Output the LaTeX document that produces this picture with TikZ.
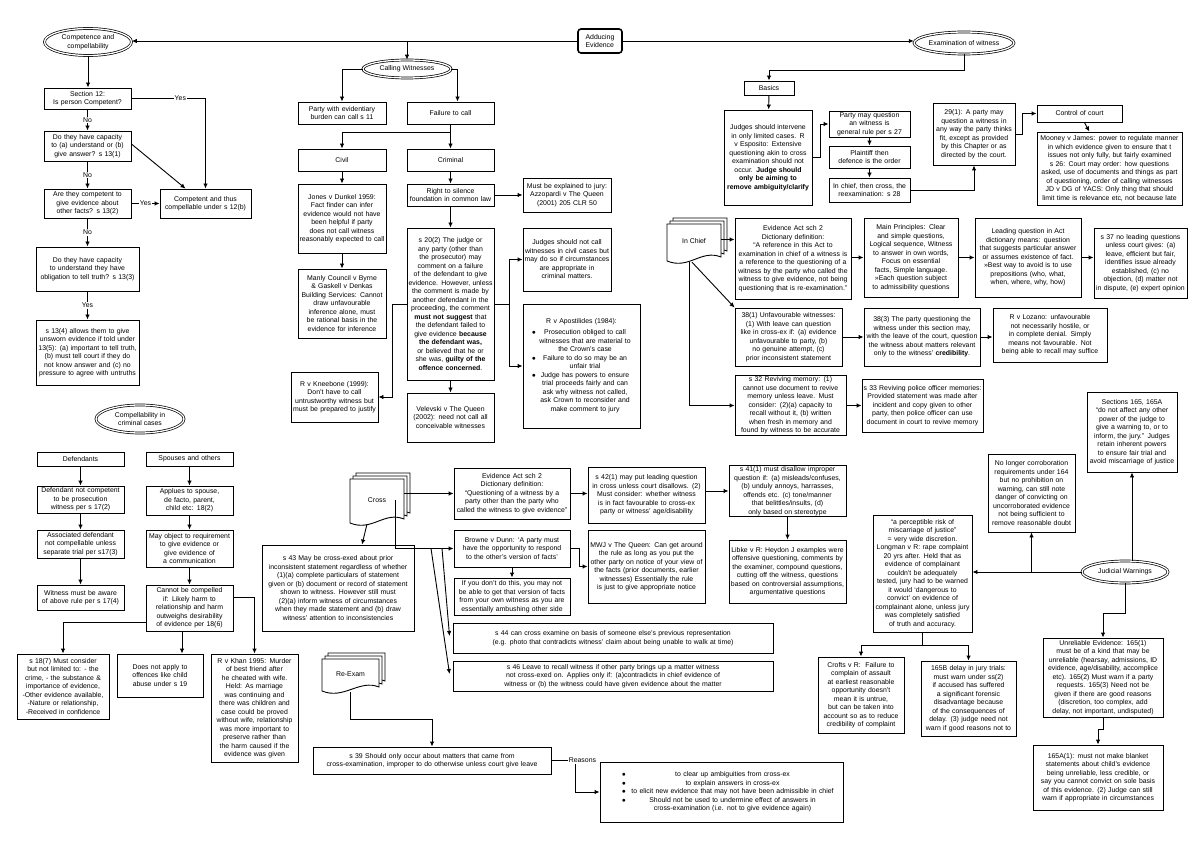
\documentclass[tikz,border=0pt]{standalone}
\usepackage{fontspec}
\setmainfont{Liberation Sans}
\usepackage{array}
\usetikzlibrary{shapes.geometric,arrows.meta,calc}
\hyphenpenalty=10000
\exhyphenpenalty=10000
\tikzset{
  every node/.style={font=\fontsize{6.9}{8.5}\selectfont},
  bx/.style={draw,line width=0.9pt,fill=white,align=center,inner xsep=1.5pt,inner ysep=1pt},
  dell/.style={ellipse,draw,double,line width=0.7pt,double distance=1.3pt,fill=white,align=center,inner sep=0pt},
  arr/.style={line width=0.9pt,-{Latex[length=5pt,width=4.5pt]}},
  ln/.style={line width=0.9pt},
  lbl/.style={fill=white,inner sep=0.8pt},
}
\newcommand\bx[6]{%
  \pgfmathsetmacro\bw{#4-#2-3}\pgfmathsetmacro\bh{#5-#3}%
  \pgfmathsetmacro\bcx{(#2+#4)/2}\pgfmathsetmacro\bcy{(#3+#5)/2}%
  \node[bx,text width=\bw pt,minimum height=\bh pt] (#1) at (\bcx,\bcy) {#6};}
\newcommand\mdoc[6]{%
  \foreach \o in {6,3,0}{%
    \draw[line width=0.9pt,fill=white] (#2+\o,#5-\o-4) -- (#2+\o,#3-\o) -- (#4+\o,#3-\o) -- (#4+\o,#5-\o-8)
      .. controls (#4+\o-20,#5-\o-16) and (#2+\o+22,#5-\o+5) .. (#2+\o,#5-\o-4) -- cycle;}
  \pgfmathsetmacro\bw{#4-#2}\pgfmathsetmacro\bh{#5-#3}%
  \pgfmathsetmacro\bcx{(#2+#4)/2}\pgfmathsetmacro\bcy{(#3+#5)/2-3}%
  \node[minimum width=\bw pt,minimum height=\bh pt,inner sep=0pt] (#1) at (\bcx,\bcy) {#6};}
\begin{document}
\begin{tikzpicture}[x=1pt,y=-1pt]
\useasboundingbox[fill=white] (0,0) rectangle (1200,850);

% ---------- top
\node[draw,line width=1.6pt,rounded corners=3pt,align=left,minimum width=44pt,minimum height=24pt,inner sep=1pt,fill=white] (adu) at (600,41) {Adducing\\Evidence};
\node[dell,minimum width=87pt,minimum height=27pt] (comp) at (88,42) {Competence and\\compellability};
\node[dell,minimum width=86pt,minimum height=22pt] (exam) at (964,43) {Examination of witness};
\node[dell,minimum width=88pt,minimum height=18pt] (call) at (407,69) {Calling Witnesses};
\draw[arr] (adu.west) -- (comp.east |- adu.west);
\draw[arr] (adu.east) -- (exam.west |- adu.east);
\coordinate (j1) at (407,41);
\draw[arr] (j1) -- (call.north);

% ---------- competence
\bx{s12}{44}{88}{131}{109}{Section 12:\\Is person Competent?}
\bx{cap}{44}{131}{131}{161}{Do they have capacity to (a) understand or (b) give answer? s 13(1)}
\bx{oth}{44}{189}{131}{218}{Are they competent to give evidence about other facts? s 13(2)}
\bx{ctc}{160}{189}{251}{218}{Competent and thus compellable under s 12(b)}
\bx{obl}{36}{247}{139}{291}{Do they have capacity to understand they have obligation to tell truth? s 13(3)}
\bx{uns}{36}{320}{139}{385}{s 13(4) allows them to give unsworn evidence if told under 13(5): (a) important to tell truth, (b) must tell court if they do not know answer and (c) no pressure to agree with untruths}
\draw[arr] (comp.south) -- (comp.south |- s12.north);
\draw[arr] (s12) -- node[lbl]{No} (cap);
\draw[arr] (cap) -- node[lbl]{No} (oth);
\draw[arr] (oth) -- node[lbl]{No} (obl);
\draw[arr] (obl) -- node[lbl]{Yes} (uns);
\draw[arr] (s12.east) -| node[lbl,pos=0.33]{Yes} (ctc.north);
\draw[arr] ([yshift=2pt]cap.east) -- ([xshift=-20pt]ctc.north);
\draw[arr] (oth) -- node[lbl]{Yes} (ctc);

% ---------- calling witnesses
\bx{party}{298}{102}{386}{124}{Party with evidentiary burden can call s 11}
\bx{fail}{407}{102}{494}{124}{Failure to call}
\bx{civil}{298}{149}{386}{171}{Civil}
\bx{crim}{407}{149}{494}{171}{Criminal}
\bx{jones}{298}{184}{386}{253}{Jones v Dunkel 1959: Fact finder can infer evidence would not have been helpful if party does not call witness reasonably expected to call}
\bx{manly}{298}{269}{386}{338}{Manly Council v Byrne \& Gaskell v Denkas Building Services: Cannot draw unfavourable inference alone, must be rational basis in the evidence for inference}
\bx{kneeb}{291}{372}{378}{422}{R v Kneebone (1999): Don't have to call untrustworthy witness but must be prepared to justify}
\bx{rts}{407}{184}{494}{206}{Right to silence foundation in common law}
\bx{expl}{523}{178}{611}{212}{Must be explained to jury:\\Azzopardi v The Queen (2001) 205 CLR 50}
\bx{s20}{407}{228}{494}{380}{s 20(2) The judge or any party (other than the prosecutor) may comment on a failure of the defendant to give evidence. However, unless the comment is made by another defendant in the proceeding, the comment \textbf{must not suggest} that the defendant failed to give evidence \textbf{because the defendant was,} or believed that he or she was, \textbf{guilty of the offence concerned}.}
\bx{jnc}{523}{228}{611}{291}{Judges should not call witnesses in civil cases but may do so if circumstances are appropriate in criminal matters.}
\bx{apos}{523}{304}{640}{428}{R v Apostilides (1984):\\[3pt]
\begin{tabular}{@{}c@{\hspace{3pt}}>{\centering\arraybackslash}p{92pt}@{}}
$\bullet$ & Prosecution obliged to call witnesses that are material to the Crown's case\\
$\bullet$ & Failure to do so may be an unfair trial\\
$\bullet$ & Judge has powers to ensure trial proceeds fairly and can ask why witness not called, ask Crown to reconsider and make comment to jury
\end{tabular}}
\bx{vel}{407}{393}{494}{442}{Velevski v The Queen (2002): need not call all conceivable witnesses}
\draw[arr] (call.west) -| (party.north);
\draw[arr] (call.east) -| ([xshift=7pt]fail.north);
\draw[arr] (fail) -- (crim);
\draw[arr] (fail.south) -- ++(0,8) -| (civil.north);
\draw[arr] (civil) -- (jones);
\draw[arr] (jones) -- (manly);
\draw[arr] (crim) -- (rts);
\draw[arr] (rts) -- (expl);
\draw[arr] (rts) -- (s20);
\draw[arr] (s20) -- (vel);
\draw[arr] (s20.west) -- ++(-14,0) |- (kneeb.east);
\draw[arr] (s20.east) -- ++(15,0) |- (jnc.west);
\draw[arr] (s20.east) -- ++(15,0) |- (apos.west);

% ---------- compellability in criminal cases
\node[dell,minimum width=88pt,minimum height=28pt] (cc) at (140,419) {Compellability in\\criminal cases};
\bx{def}{37}{452}{124}{466}{Defendants}
\bx{spo}{146}{452}{233}{466}{Spouses and others}
\bx{dnc}{37}{486}{124}{513}{Defendant not competent to be prosecution witness per s 17(2)}
\bx{asd}{37}{530}{124}{558}{Associated defendant not compellable unless separate trial per s17(3)}
\bx{wma}{37}{585}{124}{610}{Witness must be aware of above rule per s 17(4)}
\bx{app}{146}{486}{233}{515}{Applues to spouse, de facto, parent, child etc: 18(2)}
\bx{mob}{146}{530}{233}{567}{May object to requirement to give evidence or give evidence of a communication}
\bx{cbc}{146}{585}{233}{631}{Cannot be compelled if: Likely harm to relationship and harm outweighs desirability of evidence per 18(6)}
\bx{s187}{17}{654}{109}{719}{s 18(7) Must consider but not limited to: - the crime, - the substance \& importance of evidence, -Other evidence available, -Nature or relationship, -Received in confidence}
\bx{dna}{117}{654}{203}{697}{Does not apply to offences like child abuse under s 19}
\bx{khan}{211}{654}{298}{762}{R v Khan 1995: Murder of best friend after he cheated with wife.\\Held: As marriage was continuing and there was children and case could be proved without wife, relationship was more important to preserve rather than the harm caused if the evidence was given}
\draw[arr] (def) -- (dnc);
\draw[arr] (dnc) -- (asd);
\draw[arr] (asd) -- (wma);
\draw[arr] (spo) -- (app);
\draw[arr] (app) -- (mob);
\draw[arr] (mob) -- (cbc);
\draw[arr] ([yshift=-14pt]cbc.west) -| (s187.north);
\draw[arr] ([xshift=22pt]dna.north |- cbc.south) -- ([xshift=22pt]dna.north);
\draw[arr] ([yshift=11pt]cbc.east) -| (khan.north);

% ---------- examination of witness
\bx{basics}{744}{81}{794}{95}{Basics}
\bx{jint}{724}{110}{812}{205}{Judges should intervene in only limited cases. R v Esposito: Extensive questioning akin to cross examination should not occur. \textbf{Judge should only be aiming to remove ambiguity/clarify}}
\bx{pq}{829}{111}{910}{137}{Party may question an witness is general rule per s 27}
\bx{pd}{829}{146}{910}{168}{Plaintiff then defence is the order}
\bx{ic}{829}{178}{910}{202}{In chief, then cross, the reexamination: s 28}
\bx{s29}{933}{103}{1015}{165}{29(1): A party may question a witness in any way the party thinks fit, except as provided by this Chapter or as directed by the court.}
\bx{ctl}{1037}{105}{1122}{122}{Control of court}
\bx{moon}{1037}{132}{1182}{205}{Mooney v James: power to regulate manner in which evidence given to ensure that t issues not only fully, but fairly examined\\s 26: Court may order: how questions asked, use of documents and things as part of questioning, order of calling witnesses\\JD v DG of YACS: Only thing that should limit time is relevance etc, not because late}
\draw[arr] (exam.south) -- ++(0,16) -| (basics.north);
\draw[arr] (basics) -- (jint);
\draw[arr] (jint.east) -- ++(8,0) |- (pq.west);
\draw[arr] (pq) -- (pd);
\draw[arr] (pd) -- (ic);
\draw[arr] (ic.east) -| (s29.south);
\draw[arr] (s29.east) -- ++(7,0) |- (ctl.west);
\draw[arr] (ctl) -- (moon);

% ---------- in chief
\mdoc{inchief}{667}{224}{721}{265}{In Chief}
\bx{ica}{735}{218}{851}{299}{Evidence Act sch 2 Dictionary definition:\\``A reference in this Act to examination in chief of a witness is a reference to the questioning of a witness by the party who called the witness to give evidence, not being questioning that is re-examination.''}
\bx{mp}{864}{218}{958}{297}{Main Principles: Clear and simple questions, Logical sequence, Witness to answer in own words, Focus on essential facts, Simple language.\\\textgreater\textgreater Each question subject to admissibility questions}
\bx{lq}{975}{218}{1081}{297}{Leading question in Act dictionary means: question that suggests particular answer or assumes existence of fact.\\\textgreater\textgreater Best way to avoid is to use prepositions (who, what, when, where, why, how)}
\bx{s37}{1094}{228}{1187}{298}{s 37 no leading questions unless court gives: (a) leave, efficient but fair, identifies issue already established, (c) no objection, (d) matter not in dispute, (e) expert opinion}
\bx{s381}{735}{308}{842}{366}{38(1) Unfavourable witnesses: (1) With leave can question like in cross-ex if: (a) evidence unfavourable to party, (b) no genuine attempt, (c) prior inconsistent statement}
\bx{s383}{864}{308}{980}{366}{38(3) The party questioning the witness under this section may, with the leave of the court, question the witness about matters relevant only to the witness' \textbf{credibility}.}
\bx{loz}{993}{308}{1107}{362}{R v Lozano: unfavourable not necessarily hostile, or in complete denial. Simply means not favourable. Not being able to recall may suffice}
\bx{s32}{735}{379}{846}{432}{s 32 Reviving memory: (1) cannot use document to revive memory unless leave. Must consider: (2)(a) capacity to recall without it, (b) written when fresh in memory and found by witness to be accurate}
\bx{s33}{862}{379}{983}{432}{s 33 Reviving police officer memories:\\Provided statement was made after incident and copy given to other party, then police officer can use document in court to revive memory}
\draw[arr] ([yshift=2pt]inchief.east) -- ([yshift=2pt]inchief.east -| ica.west);
\draw[arr] (ica.east |- mp.west) -- (mp.west);
\draw[arr] (mp.east) -- (mp.east -| lq.west);
\draw[arr] (lq.east) -- (lq.east -| s37.west);
\draw[arr] ([xshift=-2pt]inchief.south) -- (s381.north west);
\draw[arr] ([xshift=-5pt]inchief.south) |- (s32.west);
\draw[arr] (s381) -- (s383);
\draw[arr] (s383.east) -- (s383.east -| loz.west);
\draw[arr] (s32) -- (s33);

% ---------- judicial warnings
\bx{s165}{1087}{392}{1177}{472}{Sections 165, 165A ``do not affect any other power of the judge to give a warning to, or to inform, the jury.'' Judges retain inherent powers to ensure fair trial and avoid miscarriage of justice}
\bx{nlc}{988}{454}{1075}{532}{No longer corroboration requirements under 164 but no prohibition on warning, can still note danger of convicting on uncorroborated evidence not being sufficient to remove reasonable doubt}
\node[dell,minimum width=86pt,minimum height=22pt] (jw) at (1125,572) {Judicial Warnings};
\bx{unr}{1043}{638}{1163}{717}{Unreliable Evidence: 165(1) must be of a kind that may be unreliable (hearsay, admissions, ID evidence, age/disability, accomplice etc). 165(2) Must warn if a party requests. 165(3) Need not be given if there are good reasons (discretion, too complex, add delay, not important, undisputed)}
\bx{s165a}{1033}{745}{1163}{810}{165A(1): must not make blanket statements about child's evidence being unreliable, less credible, or say you cannot convict on sole basis of this evidence. (2) Judge can still warn if appropriate in circumstances}
\bx{perc}{873}{515}{972}{632}{``a perceptible risk of miscarriage of justice'' = very wide discretion.\\Longman v R: rape complaint 20 yrs after. Held that as evidence of complainant couldn't be adequately tested, jury had to be warned it would `dangerous to convict' on evidence of complainant alone, unless jury was completely satisfied of truth and accuracy.}
\bx{crofts}{818}{657}{904}{733}{Crofts v R:\ \ Failure to complain of assault at earliest reasonable opportunity doesn't mean it is untrue, but can be taken into account so as to reduce credibility of complaint}
\bx{s165b}{921}{661}{1016}{736}{165B delay in jury trials: must warn under ss(2) if accused has suffered a significant forensic disadvantage because of the consequences of delay. (3) judge need not warn if good reasons not to}
\draw[arr] (s165.south |- jw.north) -- (s165.south);
\draw[arr] (jw.west) -- (perc.east |- jw.west);
\draw[arr] (nlc.south |- jw.west) -- (nlc.south);
\draw[arr] (jw.south) -- ++(0,30) -| (unr.north);
\draw[arr] (unr.south) -- ++(0,12) -| (s165a.north);
\draw[arr] (perc.south) -- ++(0,13) -| (crofts.north);
\draw[arr] (perc.south) -- ++(0,13) -| (s165b.north);

% ---------- cross
\mdoc{cross}{350}{479}{404}{527}{Cross}
\bx{xdef}{454}{468}{570}{519}{Evidence Act sch 2 Dictionary definition:\\``Questioning of a witness by a party other than the party who called the witness to give evidence''}
\bx{s42}{588}{467}{705}{523}{s 42(1) may put leading question in cross unless court disallows. (2) Must consider: whether witness is in fact favourable to cross-ex party or witness' age/disability}
\bx{s41}{729}{467}{846}{515}{s 41(1) must disallow improper question if: (a) misleads/confuses, (b) unduly annoys, harrasses, offends etc. (c) tone/manner that belittles/insults, (d) only based on stereotype}
\bx{libke}{729}{540}{846}{603}{Libke v R: Heydon J examples were offensive questioning, comments by the examiner, compound questions, cutting off the witness, questions based on controversial assumptions, argumentative questions}
\bx{browne}{454}{530}{570}{567}{Browne v Dunn: `A party must have the opportunity to respond to the other's version of facts'}
\bx{ifyou}{454}{578}{570}{615}{If you don't do this, you may not be able to get that version of facts from your own witness as you are essentially ambushing other side}
\bx{mwj}{588}{530}{705}{603}{MWJ v The Queen: Can get around the rule as long as you put the other party on notice of your view of the facts (prior documents, earlier witnesses) Essentially the rule is just to give appropriate notice}
\bx{s43}{262}{545}{414}{631}{s 43 May be cross-exed about prior inconsistent statement regardless of whether (1)(a) complete particulars of statement given or (b) document or record of statement shown to witness. However still must (2)(a) inform witness of circumstances when they made statement and (b) draw witness' attention to inconsistencies}
\bx{s44}{453}{623}{773}{653}{s 44 can cross examine on basis of someone else's previous representation (e.g. photo that contradicts witness' claim about being unable to walk at time)}
\bx{s46}{453}{661}{773}{691}{s 46 Leave to recall witness if other party brings up a matter witness not cross-exed on. Applies only if: (a)contradicts in chief evidence of witness or (b) the witness could have given evidence about the matter}
\draw[arr] (cross.east |- xdef.west) -- (xdef.west);
\draw[arr] (xdef.east) -- (xdef.east -| s42.west);
\draw[arr] (s42.east |- s41.west) -- (s41.west);
\draw[arr] (s41) -- (libke);
\draw[arr] (browne) -- (ifyou);
\draw[arr] (browne.east) -- ++(9,0) |- (mwj.west);
\draw[arr] ([xshift=-10pt]cross.south) -- ([xshift=24pt]s43.north);
\draw[arr] ([xshift=18pt]cross.center) |- (browne.west);
\coordinate (b1) at (431,548.5);
\coordinate (b2) at (442,548.5);
\draw[arr] (b2) -- ([xshift=-3pt,yshift=2pt]s44.west);
\draw[arr] (b1) -- ([xshift=-3pt,yshift=2pt]s46.west);

% ---------- re-exam
\mdoc{reex}{322}{659}{379}{695}{Re-Exam}
\bx{s39}{313}{747}{551}{774}{s 39 Should only occur about matters that came from cross-examination, improper to do otherwise unless court give leave}
\bx{reasons}{600}{762}{843}{822}{\begin{tabular}{@{\hspace{14pt}}c@{\hspace{4pt}}>{\centering\arraybackslash}p{205pt}@{}}
$\bullet$ & to clear up ambiguities from cross-ex\\
$\bullet$ & to explain answers in cross-ex\\
$\bullet$ & to elicit new evidence that may not have been admissible in chief\\
$\bullet$ & Should not be used to undermine effect of answers in cross-examination (i.e. not to give evidence again)
\end{tabular}}
\draw[arr] (reex.south) -- ++(0,27) -| (s39.north);
\draw[arr] (s39.east) -- ++(24,0) coordinate (rc) |- (reasons.west);
\node[lbl] at ([xshift=7pt]rc) {Reasons};
\end{tikzpicture}
\end{document}
